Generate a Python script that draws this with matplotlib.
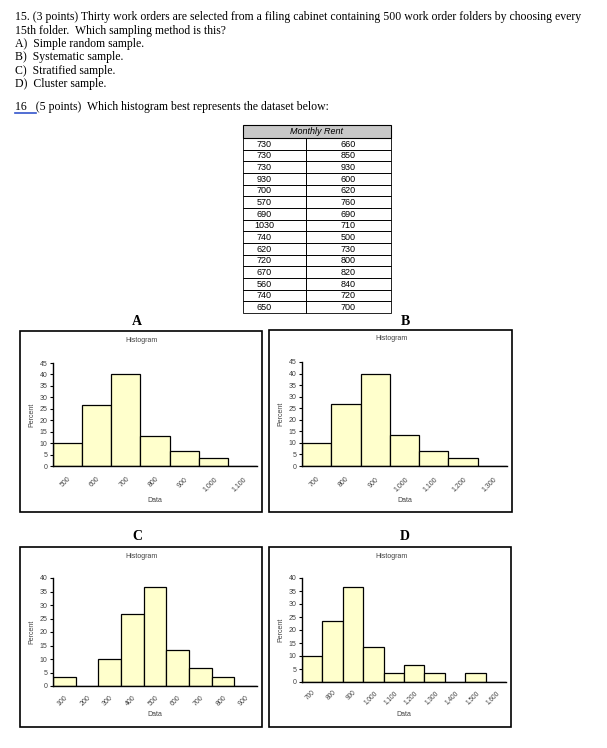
import matplotlib
matplotlib.use("Agg")
import matplotlib.pyplot as plt
from matplotlib.patches import Rectangle
from matplotlib.lines import Line2D

W, H = 607, 748
fig = plt.figure(figsize=(W / 100, H / 100), dpi=100)
fig.patch.set_facecolor("white")

# ---------------- data ----------------
question_lines = [
    "15. (3 points) Thirty work orders are selected from a filing cabinet containing 500 work order folders by choosing every",
    "15th folder.  Which sampling method is this?",
    "A)  Simple random sample.",
    "B)  Systematic sample.",
    "C)  Stratified sample.",
    "D)  Cluster sample.",
]
question16 = "16   (5 points)  Which histogram best represents the dataset below:"

table_title = "Monthly Rent"
rent_col1 = [730, 730, 730, 930, 700, 570, 690, 1030, 740, 620, 720, 670, 560, 740, 650]
rent_col2 = [660, 850, 930, 600, 620, 760, 690, 710, 500, 730, 800, 820, 840, 720, 700]

labels_A = ["500", "600", "700", "800", "900", "1,000", "1,100"]
pct_A = [10, 26.7, 40, 13.3, 6.7, 3.3, 0]
labels_B = ["700", "800", "900", "1,000", "1,100", "1,200", "1,300"]
pct_B = [10, 26.7, 40, 13.3, 6.7, 3.3, 0]
labels_C = ["100", "200", "300", "400", "500", "600", "700", "800", "900"]
pct_C = [3.3, 0, 10, 26.7, 36.7, 13.3, 6.7, 3.3, 0]
labels_D = ["700", "800", "900", "1,000", "1,100", "1,200", "1,300", "1,400", "1,500", "1,600"]
pct_D = [10, 23.3, 36.7, 13.3, 3.3, 6.7, 3.3, 0, 3.3, 0]

# ---------------- helpers ----------------
def fx(px):
    return px / W

def fy(py):
    return 1 - py / H

serif = "Liberation Serif"
sans = "Liberation Sans"

# ---------------- question text ----------------
qsize = 8.5
line_y = [17, 31, 44, 57, 71, 84]
for t, y in zip(question_lines, line_y):
    fig.text(fx(15), fy(y), t, family=serif, fontsize=qsize, ha="left", va="center", color="black")
fig.text(fx(15), fy(107), question16, family=serif, fontsize=qsize, ha="left", va="center", color="black")
fig.add_artist(Line2D([fx(15), fx(36)], [fy(113), fy(113)], color="#3355cc", lw=1.2))

# ---------------- table ----------------
tx0, tx1, tx2 = 243, 306, 391
ty0, ty1 = 125, 138
row_h = (313 - 138) / len(rent_col1)
fig.add_artist(Rectangle((fx(tx0), fy(ty1)), fx(tx2) - fx(tx0), fy(ty0) - fy(ty1),
                         transform=fig.transFigure, facecolor="#c8c8c8", edgecolor="black", lw=0.8))
fig.text(fx((tx0 + tx2) / 2), fy((ty0 + ty1) / 2 + 0.5), table_title, family=sans, style="italic",
         fontsize=6.5, ha="center", va="center")
for i, (a, b) in enumerate(zip(rent_col1, rent_col2)):
    top = ty1 + i * row_h
    bot = top + row_h
    for xa, xb in [(tx0, tx1), (tx1, tx2)]:
        fig.add_artist(Rectangle((fx(xa), fy(bot)), fx(xb) - fx(xa), fy(top) - fy(bot),
                                 transform=fig.transFigure, facecolor="none", edgecolor="black", lw=0.6))
    yc = fy((top + bot) / 2 + 0.3)
    fig.text(fx(264), yc, str(a), family=sans, fontsize=6.5, ha="center", va="center")
    fig.text(fx(348), yc, str(b), family=sans, fontsize=6.5, ha="center", va="center")

# ---------------- histograms ----------------
charts = [
    # letter, letter pos, box (l,t,r,b), axes (l, r, y0, ytop), labels, pct, ymax, title y, data y, tick pad, tick size
    ("A", (137, 322), (20, 331, 262, 512), (53, 257, 466, 363), labels_A, pct_A, 45, 341, 500, 7, 5),
    ("B", (405, 322), (269, 330, 512, 512), (302, 507, 466, 362), labels_B, pct_B, 45, 339, 500, 7, 5),
    ("C", (137, 537), (20, 547, 262, 727), (53, 257, 686, 578), labels_C, pct_C, 40, 557, 714, 6, 5),
    ("D", (405, 537), (269, 547, 511, 727), (302, 506, 682, 578), labels_D, pct_D, 40, 557, 714, 5, 4.7),
]

grey = "#404040"
for letter, lpos, box, axp, labels, pct, ymax, title_y, data_y, tpad, tsize in charts:
    fig.text(fx(lpos[0]), fy(lpos[1]), letter, family=serif, fontweight="bold", fontsize=10,
             ha="center", va="center")
    bl, bt, br, bb = box
    fig.add_artist(Rectangle((fx(bl), fy(bb)), fx(br) - fx(bl), fy(bt) - fy(bb),
                             transform=fig.transFigure, facecolor="white", edgecolor="black", lw=1.2, zorder=0))
    al, ar, ay0, aytop = axp
    ax = fig.add_axes([fx(al), fy(ay0), fx(ar) - fx(al), fy(aytop) - fy(ay0)])
    ax.patch.set_alpha(0)
    n = len(labels)
    ax.bar(range(n), pct, width=1.0, color="#ffffcc", edgecolor="black", linewidth=0.9)
    ax.set_xlim(-0.5, n - 0.5)
    ax.set_ylim(0, ymax)
    ax.set_yticks(range(0, ymax + 1, 5))
    ax.set_yticklabels([str(v) for v in range(0, ymax + 1, 5)], family=sans, fontsize=5, color=grey)
    ax.tick_params(axis="y", length=2.5, width=0.8, pad=1.5)
    ax.set_xticks(range(n))
    ax.set_xticklabels(labels, rotation=45, ha="right", va="top", rotation_mode="anchor",
                       family=sans, fontsize=tsize, color=grey)
    ax.tick_params(axis="x", length=0, pad=tpad)
    for s in ["top", "right"]:
        ax.spines[s].set_visible(False)
    for s in ["left", "bottom"]:
        ax.spines[s].set_linewidth(1.0)
    ax.set_ylabel("Percent", family=sans, fontsize=5, color=grey, labelpad=3)
    fig.text(fx((bl + br) / 2 + 1), fy(title_y), "Histogram", family=sans, fontsize=5, color=grey,
             ha="center", va="center")
    fig.text(fx((al + ar) / 2), fy(data_y), "Data", family=sans, fontsize=5, color=grey,
             ha="center", va="center")

fig.savefig("out.png", dpi=100, facecolor="white")
